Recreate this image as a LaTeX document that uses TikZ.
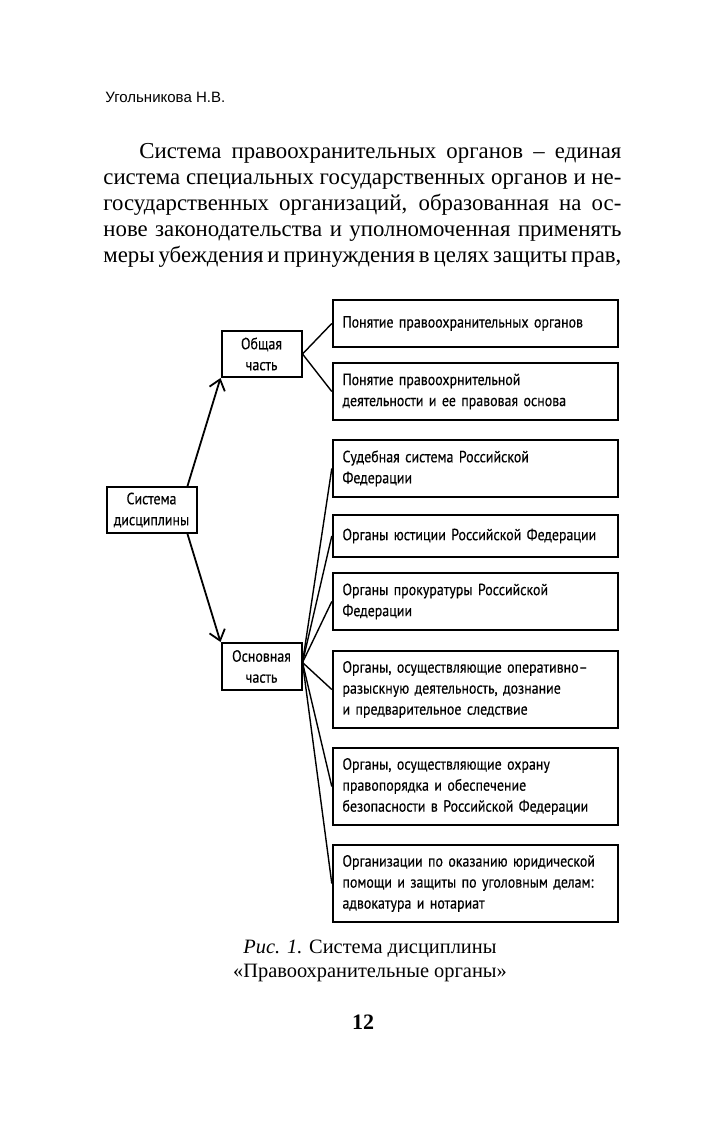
\documentclass[tikz,border=0pt]{standalone}
\usepackage{fontspec}
\setmainfont{Liberation Serif}
\newfontfamily\diagfont[FakeStretch=0.86,FakeBold=0.3,WordSpace=0.7]{PT Sans}
\newfontfamily\headfont{Liberation Sans}
\usetikzlibrary{arrows.meta}

\tikzset{
  partbox/.style={draw, line width=1pt, align=center, inner sep=0pt,
    font=\diagfont\fontsize{8.1}{10.5}\selectfont},
  topicbox/.style={draw, line width=1.2pt, align=left, inner xsep=4.75pt, inner ysep=0pt,
    text width=133pt, font=\diagfont\fontsize{8.1}{10.5}\selectfont},
  link/.style={line width=0.7pt},
  arr/.style={line width=0.9pt, -{Straight Barb[length=5pt,width=8pt]}},
  bodytext/.style={inner sep=0pt, align=left, font=\fontsize{11.4}{13}\selectfont}
}

\begin{document}
\begin{tikzpicture}[x=0.5pt,y=-0.5pt]
  \fill[white] (0,0) rectangle (709,1122);
  \useasboundingbox (0,0) rectangle (709,1122);

  % page head and text
  \node[anchor=base west, inner sep=0pt, font=\headfont\fontsize{7.5}{9}\selectfont] (head) at (105,103) {Угольникова Н.В.};
  \node[bodytext, anchor=base west] (para) at (103,263) {%
    \hspace*{18pt}\makebox[241pt][s]{Система правоохранительных органов – единая}\\
    \makebox[259pt][s]{система специальных государственных органов и не-}\\
    \makebox[259pt][s]{государственных организаций, образованная на ос-}\\
    \makebox[259pt][s]{нове законодательства и уполномоченная применять}\\
    \makebox[259pt][s]{меры убеждения и принуждения в целях защиты прав,}};

  % left part
  \node[partbox, minimum width=45pt, minimum height=23pt] (sys) at (151.5,510) {Система\\дисциплины};
  \node[partbox, minimum width=40pt, minimum height=23pt] (obsh) at (261.5,354) {Общая\\часть};
  \node[partbox, minimum width=40pt, minimum height=23.5pt] (osn) at (261.5,666.5) {Основная\\часть};

  % right column
  \node[topicbox, minimum height=23.5pt] (t1) at (475.5,323.5) {Понятие правоохранительных органов};
  \node[topicbox, minimum height=28.5pt] (t2) at (475.5,391.5) {Понятие правоохрнительной\\деятельности и ее правовая основа};
  \node[topicbox, minimum height=28.5pt] (t3) at (475.5,468.5) {Судебная система Российской\\Федерации};
  \node[topicbox, minimum height=21pt] (t4) at (475.5,536) {Органы юстиции Российской Федерации};
  \node[topicbox, minimum height=28.5pt] (t5) at (475.5,601.5) {Органы прокуратуры Российской\\Федерации};
  \node[topicbox, minimum height=38.5pt] (t6) at (475.5,689.5) {Органы, осуществляющие оперативно–\\разыскную деятельность, дознание\\и предварительное следствие};
  \node[topicbox, minimum height=38.5pt] (t7) at (475.5,786.5) {Органы, осуществляющие охрану\\правопорядка и обеспечение\\безопасности в Российской Федерации};
  \node[topicbox, minimum height=38.5pt] (t8) at (475.5,883.5) {Организации по оказанию юридической\\помощи и защиты по уголовным делам:\\адвокатура и нотариат};

  \draw[arr] ([xshift=-5pt]sys.north east) -- (obsh.south west);
  \draw[arr] ([xshift=-5pt]sys.south east) -- (osn.north west);
  \draw[link] (obsh.east) -- (t1.west);
  \draw[link] (obsh.east) -- (t2.west);
  \foreach \t in {t3,t4,t5,t6,t7,t8}
    \draw[link] ([yshift=2pt]osn.east) -- (\t.west);

  % caption and page number
  \node[anchor=base, inner sep=0pt, font=\fontsize{10.2}{12}\selectfont] (cap1) at (370,953) {\textit{Рис. 1.} Система дисциплины};
  \node[anchor=base, inner sep=0pt, font=\fontsize{10.2}{12}\selectfont] (cap2) at (370,977) {«Правоохранительные органы»};
  \node[anchor=base, inner sep=0pt, font=\bfseries\fontsize{11}{13}\selectfont] (page) at (363,1029) {12};
\end{tikzpicture}
\end{document}
